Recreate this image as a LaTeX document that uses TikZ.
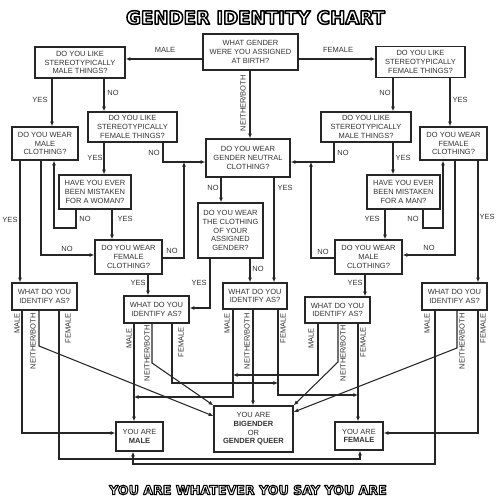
\documentclass[tikz,border=0pt]{standalone}
\usepackage{fontspec}
\setmainfont{Liberation Sans}
\newfontfamily\titlefont{DejaVu Sans Bold}
\usetikzlibrary{arrows.meta}
% white letters with a black rim (fill and stroke)
\newcommand\rimtext[2]{\textcolor{white}{\special{pdf:literal direct 0 G #1 w 1 j 2 Tr}#2\special{pdf:literal direct 0 Tr}}}

\begin{document}
\begin{tikzpicture}[x=0.03cm, y=-0.03cm,
    box/.style={draw=black!85, line width=1.2pt, fill=white, text=black!80,
      font=\fontsize{6.4}{7.4}\selectfont, align=center, inner sep=1pt},
    wh/.style 2 args={minimum width=#1*0.3mm, minimum height=#2*0.3mm},
    arr/.style={draw=black!85, line width=0.9pt, -{Latex[length=4pt,width=3.4pt]}},
    lab/.style={text=black!80, font=\fontsize{6.4}{7.4}\selectfont, inner sep=0pt},
    vlab/.style={lab, rotate=90, anchor=east}]

    % page
    \fill[white] (0,0) rectangle (500,504);
    \useasboundingbox (0,0) rectangle (500,504);

    % title and footer
    \node[inner sep=0pt, font=\titlefont\fontsize{15.5}{15.5}\selectfont] (title) at (255.5,17.5)
      {\rimtext{1.3}{GENDER IDENTITY CHART}};
    \node[inner sep=0pt, font=\titlefont\fontsize{10.8}{10.8}\selectfont] (footer) at (248,490)
      {\rimtext{0.9}{YOU ARE WHATEVER YOU SAY YOU ARE}};

    % question boxes
    \node[box, wh={95}{36}] (q0) at (250.5,52) {WHAT GENDER\\WERE YOU ASSIGNED\\AT BIRTH?};
    \node[box, wh={90}{31}] (l1) at (80,62.5) {DO YOU LIKE\\STEREOTYPICALLY\\MALE THINGS?};
    \node[box, wh={89}{31}] (r1) at (420.5,62) {DO YOU LIKE\\STEREOTYPICALLY\\FEMALE THINGS?};
    \node[box, wh={66}{33}] (l2) at (45,143.5) {DO YOU WEAR\\MALE\\CLOTHING?};
    \node[box, wh={89}{30}] (l3) at (132.5,127) {DO YOU LIKE\\STEREOTYPICALLY\\FEMALE THINGS?};
    \node[box, wh={72}{34}] (l4) at (95,192) {HAVE YOU EVER\\BEEN MISTAKEN\\FOR A WOMAN?};
    \node[box, wh={67}{34}] (l5) at (128.5,257) {DO YOU WEAR\\FEMALE\\CLOTHING?};
    \node[box, wh={84}{38}] (c1) at (248,158) {DO YOU WEAR\\GENDER NEUTRAL\\CLOTHING?};
    \node[box, wh={65}{55}] (c2) at (230.5,230.5) {DO YOU WEAR\\THE CLOTHING\\OF YOUR\\ASSIGNED\\GENDER?};
    \node[box, wh={67}{33}] (r2) at (453.5,143.5) {DO YOU WEAR\\FEMALE\\CLOTHING?};
    \node[box, wh={90}{30}] (r3) at (366,127) {DO YOU LIKE\\STEREOTYPICALLY\\MALE THINGS?};
    \node[box, wh={73}{34}] (r4) at (403.5,192) {HAVE YOU EVER\\BEEN MISTAKEN\\FOR A MAN?};
    \node[box, wh={67}{34}] (r5) at (368.5,257) {DO YOU WEAR\\MALE\\CLOTHING?};

    % identify boxes
    \node[box, wh={65}{27}] (l6) at (44.5,296.5) {WHAT DO YOU\\IDENTIFY AS?};
    \node[box, wh={65}{27}] (l7) at (156.5,309.5) {WHAT DO YOU\\IDENTIFY AS?};
    \node[box, wh={64}{26}] (c3) at (255,296) {WHAT DO YOU\\IDENTIFY AS?};
    \node[box, wh={65}{26}] (r7) at (337.5,310) {WHAT DO YOU\\IDENTIFY AS?};
    \node[box, wh={65}{27}] (r6) at (454.5,296.5) {WHAT DO YOU\\IDENTIFY AS?};

    % answers
    \node[box, wh={47}{29}] (ym) at (139.5,436.5) {YOU ARE\\\textbf{MALE}};
    \node[box, wh={79}{46}] (yb) at (253.5,429) {YOU ARE\\\textbf{BIGENDER}\\OR\\\textbf{GENDER QUEER}};
    \node[box, wh={48}{28}] (yf) at (359,436) {YOU ARE\\\textbf{FEMALE}};

    % join points on other lines
    \coordinate (jl) at (184,162);
    \coordinate (jr) at (311,162);
    \coordinate (jl7m) at (134,397);
    \coordinate (jc3m) at (233,375);
    \coordinate (jc3f) at (278,383);
    \coordinate (jr7f) at (358,395);

    % first question
    \draw[arr] (q0.west |- 0,59) -- (l1.east |- 0,59);
    \draw[arr] (q0.east |- 0,59) -- (r1.west |- 0,59);
    \draw[arr] (q0.south -| 250,0) -- (c1.north -| 250,0);
    \node[lab] (tm) at (165,50) {MALE};
    \node[lab] (tf) at (338,50) {FEMALE};
    \node[vlab] (tn) at (243,75) {NEITHER/BOTH};

    % left branch
    \draw[arr] (l1.south -| 52,0) -- (l2.north -| 52,0);
    \draw[arr] (l1.south -| 104,0) -- (l3.north -| 104,0);
    \draw[arr] (l3.south -| 104,0) -- (l4.north -| 104,0);
    \draw[arr] (l3.south -| 163,0) |- (c1.west |- 0,162);
    \draw[arr] (l4.south -| 76,0) -- (76,228) -| (l2.south -| 54,0);
    \draw[arr] (l4.south -| 112,0) -- (l5.north -| 112,0);
    \draw[arr] (l2.south -| 41,0) |- (l5.west |- 0,255);
    \draw[arr] (l2.south -| 20,0) -- (l6.north -| 20,0);
    \draw[arr] (l5.east |- 0,258) -| (jl);
    \draw[arr] (l5.south -| 148,0) -- (l7.north -| 148,0);
    \node[lab] (y1) at (40,100) {YES};
    \node[lab] (n1) at (113,93) {NO};
    \node[lab] (y3) at (95,158) {YES};
    \node[lab] (n3) at (154,153) {NO};
    \node[lab] (n4) at (85,219) {NO};
    \node[lab] (y4) at (125,219) {YES};
    \node[lab] (n2) at (67,249) {NO};
    \node[lab] (y2) at (10,220) {YES};
    \node[lab] (n5) at (172,251) {NO};
    \node[lab] (y5) at (138,283) {YES};

    % middle branch
    \draw[arr] (c1.south -| 221,0) -- (c2.north -| 221,0);
    \draw[arr] (c1.south -| 274,0) -- (c3.north -| 274,0);
    \draw[arr] (c2.south -| 210,0) |- (l7.east |- 0,308);
    \draw[arr] (c2.south -| 250,0) -- (c3.north -| 250,0);
    \node[lab] (nc1) at (213,188) {NO};
    \node[lab] (yc1) at (285,188) {YES};
    \node[lab] (yc2) at (199,283) {YES};
    \node[lab] (nc2) at (258,269) {NO};

    % right branch
    \draw[arr] (r1.south -| 393,0) -- (r3.north -| 393,0);
    \draw[arr] (r1.south -| 450,0) -- (r2.north -| 450,0);
    \draw[arr] (r3.south -| 334,0) |- (c1.east |- 0,162);
    \draw[arr] (r3.south -| 393,0) -- (r4.north -| 393,0);
    \draw[arr] (r4.south -| 385,0) -- (r5.north -| 385,0);
    \draw[arr] (r4.south -| 423,0) -- (423,228) -| (r2.south -| 443,0);
    \draw[arr] (r2.south -| 455,0) |- (r5.east |- 0,255);
    \draw[arr] (r2.south -| 478,0) -- (r6.north -| 478,0);
    \draw[arr] (r5.west |- 0,258) -| (jr);
    \draw[arr] (r5.south -| 365,0) -- (r7.north -| 365,0);
    \node[lab] (rn1) at (385,93) {NO};
    \node[lab] (ry1) at (460,100) {YES};
    \node[lab] (rn3) at (343,153) {NO};
    \node[lab] (ry3) at (403,158) {YES};
    \node[lab] (ry4) at (372,219) {YES};
    \node[lab] (rn4) at (413,219) {NO};
    \node[lab] (rn2) at (429,248) {NO};
    \node[lab] (ry2) at (487,217) {YES};
    \node[lab] (rn5) at (323,252) {NO};
    \node[lab] (ry5) at (355,283) {YES};

    % what do you identify as
    \draw[arr] (l6.south -| 22,0) |- (ym.west |- 0,433);
    \draw[arr] (l6.south -| 39,0) -- (39,346) -- (yb.west |- 0,416);
    \draw[arr] (l6.south -| 59,0) -- (59,459) -| (yf.south -| 360,0);
    \draw[arr] (l7.south -| 134,0) -- (ym.north -| 134,0);
    \draw[arr] (l7.south -| 152,0) -- (152,363) -- (yb.north west);
    \draw[arr] (l7.south -| 172,0) |- (jc3f);
    \draw[arr] (c3.south -| 233,0) |- (jl7m);
    \draw[arr] (c3.south -| 253,0) -- (yb.north -| 253,0);
    \draw[arr] (c3.south -| 278,0) |- (jr7f);
    \draw[arr] (r7.south -| 318,0) |- (jc3m);
    \draw[arr] (r7.south -| 338,0) -- (338,362) -- (yb.north east);
    \draw[arr] (r7.south -| 358,0) -- (yf.north -| 358,0);
    \draw[arr] (r6.south -| 435,0) -- (435,464) -| (ym.south -| 133,0);
    \draw[arr] (r6.south -| 457,0) -- (457,348) -- (yb.east |- 0,412);
    \draw[arr] (r6.south -| 478,0) |- (yf.east |- 0,433);

    \node[vlab] (a1) at (17,313) {MALE};
    \node[vlab] (a2) at (33,313) {NEITHER/BOTH};
    \node[vlab] (a3) at (68,313) {FEMALE};
    \node[vlab] (b1) at (129,328) {MALE};
    \node[vlab] (b2) at (147,325) {NEITHER/BOTH};
    \node[vlab] (b3) at (181,327) {FEMALE};
    \node[vlab] (c1m) at (227,313) {MALE};
    \node[vlab] (c1n) at (247,313) {NEITHER/BOTH};
    \node[vlab] (c1f) at (283,313) {FEMALE};
    \node[vlab] (d1) at (311,328) {MALE};
    \node[vlab] (d2) at (343,325) {NEITHER/BOTH};
    \node[vlab] (d3) at (363,327) {FEMALE};
    \node[vlab] (e1) at (427,313) {MALE};
    \node[vlab] (e2) at (462,313) {NEITHER/BOTH};
    \node[vlab] (e3) at (483,313) {FEMALE};
\end{tikzpicture}
\end{document}
